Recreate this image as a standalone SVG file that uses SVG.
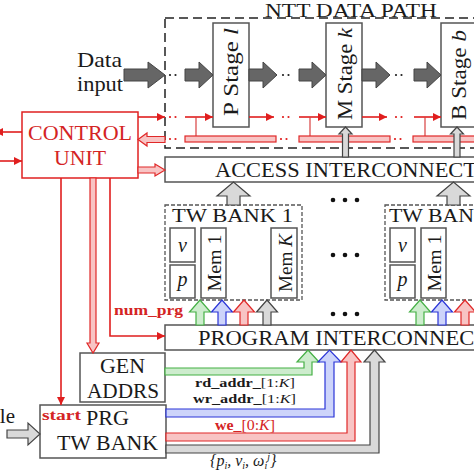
<svg xmlns="http://www.w3.org/2000/svg" width="474" height="474" viewBox="0 0 474 474">
<defs>
<style>
.t{font-family:"Liberation Serif","Times New Roman",serif;fill:#1a1a1a}
.r{fill:#d42424}
.b{font-weight:bold}
.i{font-style:italic}
.box{fill:#fff;stroke:#555;stroke-width:1.5}
.rbox{fill:#fff;stroke:#e02020;stroke-width:1.5}
.red{stroke:#e01e1e;stroke-width:1.6;fill:none}
.br{stroke:#d84040;stroke-width:1.2;fill:none}
.dotk{stroke:#222;stroke-width:2.2;stroke-linecap:round;stroke-dasharray:0 5.5;fill:none}
.dotr{stroke:#e01e1e;stroke-width:2.2;stroke-linecap:round;stroke-dasharray:0 5.5;fill:none}
.gfat{fill:#666;stroke:#444;stroke-width:1}
.hg{fill:#d9d9d9;stroke:#444;stroke-width:1.2}
.hr{fill:#f8c4c4;stroke:#e02828;stroke-width:1.2}
.hgr{fill:#cdeccd;stroke:#45b045;stroke-width:1.2}
.hb{fill:#cdd4fa;stroke:#2b35d8;stroke-width:1.2}
.dash{fill:none;stroke:#222;stroke-width:1.5;stroke-dasharray:9 5}
.dash2{fill:none;stroke:#555;stroke-width:1.3;stroke-dasharray:4 2}
.bul{fill:#111}
</style>
<marker id="ar" viewBox="0 0 10 10" refX="10" refY="5" markerWidth="9" markerHeight="8" markerUnits="userSpaceOnUse" orient="auto"><path d="M0,0 L10,5 L0,10 z" fill="#e01e1e"/></marker>
</defs>

<g id="ntt-datapath">
<rect class="dash" x="165" y="18" width="330" height="130"/>
<text class="t" x="265" y="16.5" font-size="18" textLength="172" lengthAdjust="spacingAndGlyphs">NTT DATA PATH</text>
</g>

<g id="data-input-label">
<text class="t" x="77" y="67" font-size="21" textLength="45" lengthAdjust="spacingAndGlyphs">Data</text>
<text class="t" x="77" y="91" font-size="21" textLength="46" lengthAdjust="spacingAndGlyphs">input</text>
</g>

<g id="stage-p">
<rect class="box" x="213" y="23" width="36" height="104"/>
<text class="t" font-size="21" transform="translate(238,72) rotate(-90)" text-anchor="middle" textLength="88" lengthAdjust="spacingAndGlyphs">P Stage <tspan class="i">l</tspan></text>
</g>
<g id="stage-m">
<rect class="box" x="326" y="23" width="36" height="104"/>
<text class="t" font-size="21" transform="translate(352,74) rotate(-90)" text-anchor="middle" textLength="92" lengthAdjust="spacingAndGlyphs">M Stage <tspan class="i">k</tspan></text>
</g>
<g id="stage-b">
<rect class="box" x="441" y="23" width="50" height="104"/>
<text class="t" font-size="21" transform="translate(466,75) rotate(-90)" text-anchor="middle" textLength="90" lengthAdjust="spacingAndGlyphs">B Stage <tspan class="i">b</tspan></text>
</g>

<g id="control-unit">
<rect class="rbox" x="22" y="112" width="116" height="66"/>
<text class="t r" x="28" y="140" font-size="21" textLength="104" lengthAdjust="spacingAndGlyphs">CONTROL</text>
<text class="t r" x="54" y="165" font-size="21" textLength="52" lengthAdjust="spacingAndGlyphs">UNIT</text>
</g>

<g id="access-interconnect">
<rect class="box" x="165" y="157" width="330" height="25"/>
<text class="t" x="215" y="177" font-size="20" textLength="262" lengthAdjust="spacingAndGlyphs">ACCESS INTERCONNECT</text>
</g>

<g id="tw-bank-1">
<rect class="dash2" x="165" y="205" width="137" height="95"/>
<text class="t" x="172" y="222" font-size="19" textLength="121" lengthAdjust="spacingAndGlyphs">TW BANK 1</text>
<rect class="box" x="170" y="228" width="25" height="34"/>
<text class="t i" x="182.5" y="252" font-size="20" text-anchor="middle">v</text>
<rect class="box" x="170" y="265" width="25" height="33"/>
<text class="t i" x="182.5" y="286" font-size="20" text-anchor="middle">p</text>
<rect class="box" x="201" y="228" width="25" height="70"/>
<text class="t" font-size="19" transform="translate(221,263) rotate(-90)" text-anchor="middle" textLength="57" lengthAdjust="spacingAndGlyphs">Mem 1</text>
<rect class="box" x="271" y="228" width="26" height="70"/>
<text class="t" font-size="19" transform="translate(292,263) rotate(-90)" text-anchor="middle" textLength="58" lengthAdjust="spacingAndGlyphs">Mem <tspan class="i">K</tspan></text>
</g>

<g id="tw-bank-n">
<rect class="dash2" x="385" y="205" width="137" height="95"/>
<text class="t" x="389" y="222" font-size="19" textLength="85" lengthAdjust="spacingAndGlyphs">TW BAN</text>
<rect class="box" x="390" y="228" width="25" height="34"/>
<text class="t i" x="402.5" y="252" font-size="20" text-anchor="middle">v</text>
<rect class="box" x="390" y="265" width="25" height="33"/>
<text class="t i" x="402.5" y="286" font-size="20" text-anchor="middle">p</text>
<rect class="box" x="421" y="228" width="25" height="70"/>
<text class="t" font-size="19" transform="translate(441,263) rotate(-90)" text-anchor="middle" textLength="57" lengthAdjust="spacingAndGlyphs">Mem 1</text>
</g>

<g id="ellipses">
<circle class="bul" cx="333" cy="200" r="2.3"/><circle class="bul" cx="345" cy="200" r="2.3"/><circle class="bul" cx="357" cy="200" r="2.3"/>
<circle class="bul" cx="333" cy="255" r="2.3"/><circle class="bul" cx="345" cy="255" r="2.3"/><circle class="bul" cx="357" cy="255" r="2.3"/>
<circle class="bul" cx="333" cy="314" r="2.3"/><circle class="bul" cx="345" cy="314" r="2.3"/><circle class="bul" cx="357" cy="314" r="2.3"/>
</g>

<g id="program-interconnect">
<rect class="box" x="165" y="325" width="330" height="25"/>
<text class="t" x="198" y="345" font-size="20" textLength="290" lengthAdjust="spacingAndGlyphs">PROGRAM INTERCONNECT</text>
</g>

<g id="gen-addrs">
<rect class="box" x="80" y="353" width="85" height="49"/>
<text class="t" x="122.5" y="373" font-size="20" text-anchor="middle" textLength="45" lengthAdjust="spacingAndGlyphs">GEN</text>
<text class="t" x="123" y="398" font-size="20" text-anchor="middle" textLength="72" lengthAdjust="spacingAndGlyphs">ADDRS</text>
</g>

<g id="prg-tw-bank">
<rect class="box" x="40" y="405" width="126" height="53"/>
<text class="t r b" x="42" y="420" font-size="14" textLength="39" lengthAdjust="spacingAndGlyphs">start</text>
<text class="t" x="86" y="425" font-size="20" textLength="43" lengthAdjust="spacingAndGlyphs">PRG</text>
<text class="t" x="57" y="450" font-size="20" textLength="101" lengthAdjust="spacingAndGlyphs">TW BANK</text>
</g>

<g id="left-input">
<text class="t" x="15" y="423" font-size="21" text-anchor="end">le</text>
</g>

<g id="connectors">
<polygon class="gfat" points="124,69 148,69 148,62 165,75 148,88 148,81 124,81"/>
<polygon class="gfat" points="185,69 199,69 199,62 213,75 199,88 199,81 185,81"/>
<polygon class="gfat" points="249,69 263,69 263,62 277,75 263,88 263,81 249,81"/>
<polygon class="gfat" points="299,69 312,69 312,62 326,75 312,88 312,81 299,81"/>
<polygon class="gfat" points="362,69 376,69 376,62 390,75 376,88 376,81 362,81"/>
<polygon class="gfat" points="414,69 427,69 427,62 441,75 427,88 427,81 414,81"/>
<line class="dotk" x1="170" y1="75" x2="181" y2="75"/>
<line class="dotk" x1="283" y1="75" x2="294" y2="75"/>
<line class="dotk" x1="396" y1="75" x2="407" y2="75"/>

<line class="red" x1="138" y1="117" x2="165" y2="117" marker-end="url(#ar)"/>
<line class="dotr" x1="170" y1="117" x2="181" y2="117"/>
<line class="red" x1="185" y1="117" x2="213" y2="117" marker-end="url(#ar)"/>
<line class="red" x1="249" y1="117" x2="274" y2="117" marker-end="url(#ar)"/>
<line class="dotr" x1="283" y1="117" x2="294" y2="117"/>
<line class="red" x1="299" y1="117" x2="326" y2="117" marker-end="url(#ar)"/>
<line class="red" x1="362" y1="117" x2="387" y2="117" marker-end="url(#ar)"/>
<line class="dotr" x1="396" y1="117" x2="407" y2="117"/>
<line class="red" x1="414" y1="117" x2="441" y2="117" marker-end="url(#ar)"/>
<line class="br" x1="196" y1="117" x2="196" y2="136"/>
<line class="br" x1="310" y1="117" x2="310" y2="136"/>
<line class="br" x1="425" y1="117" x2="425" y2="136"/>

<rect class="hr" x="185" y="136" width="91" height="6"/>
<rect class="hr" x="299" y="136" width="91" height="6"/>
<rect class="hr" x="413" y="136" width="80" height="6"/>
<line class="dotr" x1="281" y1="139" x2="292" y2="139"/>
<line class="dotr" x1="395" y1="139" x2="406" y2="139"/>
<line class="dotr" x1="170" y1="139" x2="181" y2="139"/>
<polygon class="hr" points="165,136.5 147,136.5 147,133 138,139.5 147,146 147,142.5 165,142.5"/>

<polygon class="hr" points="138,167 155,167 155,164 165,170 155,176 155,173 138,173"/>

<line class="red" x1="22" y1="132" x2="-5" y2="132" marker-end="url(#ar)"/>
<line class="red" x1="0" y1="161" x2="22" y2="161" marker-end="url(#ar)"/>

<polygon class="hg" points="342.5,157 342.5,134 339,134 345.5,127 352,134 348.5,134 348.5,157"/>
<polygon class="hg" points="454,157 454,134 450.5,134 457,127 463.5,134 460,134 460,157"/>

<polygon class="hg" points="227,205 227,196 217,196 233.5,182 250,196 240,196 240,205"/>
<polygon class="hg" points="447,205 447,196 437,196 453.5,182 470,196 460,196 460,205"/>

<polygon class="hgr" points="196,325 196,312 189.5,312 200,300 210.5,312 204,312 204,325"/>
<polygon class="hb" points="218,325 218,312 211.5,312 222,300 232.5,312 226,312 226,325"/>
<polygon class="hr" points="240,325 240,312 233.5,312 244,300 254.5,312 248,312 248,325"/>
<polygon class="hg" points="263,325 263,312 256.5,312 267,300 277.5,312 271,312 271,325"/>
<polygon class="hgr" points="416,325 416,312 409.5,312 420,300 430.5,312 424,312 424,325"/>
<polygon class="hb" points="438,325 438,312 431.5,312 442,300 452.5,312 446,312 446,325"/>
<polygon class="hr" points="461,325 461,312 454.5,312 465,300 475.5,312 469,312 469,325"/>

<line class="red" x1="61" y1="178" x2="61" y2="405" marker-end="url(#ar)"/>
<polygon class="hr" points="90,178 90,343 87,343 93,353 99,343 96,343 96,178"/>
<polyline class="red" points="110,178 110,336 165,336" marker-end="url(#ar)"/>
<text class="t r b" x="114" y="315" font-size="15" textLength="69" lengthAdjust="spacingAndGlyphs">num_prg</text>

<polygon class="hg" points="7,430 28,430 28,423 40,434 28,445 28,438 7,438"/>

<polygon class="hgr" points="165,368 304,368 304,362 297,362 308,350 319,362 312,362 312,375 165,375"/>
<polygon class="hb" points="166,409 325,409 325,362 318,362 329.5,350 341,362 334,362 334,417 166,417"/>
<polygon class="hr" points="166,433 347,433 347,362 341,362 351,350 361,362 355,362 355,441 166,441"/>
<polygon class="hg" points="166,445 370,445 370,362 364,362 374.5,350 385,362 379,362 379,453 166,453"/>

<text class="t" x="195" y="386.5" font-size="13.5" textLength="100" lengthAdjust="spacingAndGlyphs"><tspan class="b">rd_addr_</tspan>[1:<tspan class="i">K</tspan>]</text>
<text class="t" x="193" y="402.5" font-size="13.5" textLength="103" lengthAdjust="spacingAndGlyphs"><tspan class="b">wr_addr_</tspan>[1:<tspan class="i">K</tspan>]</text>
<text class="t r" x="215" y="430" font-size="15" textLength="60" lengthAdjust="spacingAndGlyphs"><tspan class="b">we_</tspan>[0:<tspan class="i">K</tspan>]</text>
<text class="t i" x="210" y="466" font-size="16">{p<tspan font-size="10" dy="3">i</tspan><tspan dy="-3">, v</tspan><tspan font-size="10" dy="3">i</tspan><tspan dy="-3">, ω</tspan><tspan font-size="10" dy="3">i</tspan><tspan font-size="10" dy="-9">j</tspan><tspan dy="6">}</tspan></text>
</g>
</svg>
